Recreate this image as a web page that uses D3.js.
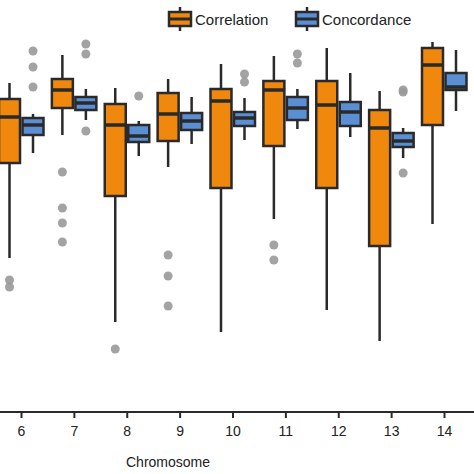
<!DOCTYPE html><html><head><meta charset="utf-8"><script src="https://cdn.jsdelivr.net/npm/d3@7"></script>
<style>body{margin:0;background:#fff}text{font-family:"Liberation Sans",Arial,sans-serif}</style></head><body>
<svg id="c" width="474" height="474"></svg>
<script>
const chromosomes=[6,7,8,9,10,11,12,13,14];
// [lowWhisker,q1,median,q3,highWhisker]
const corr=[[154,249,295,313,329],[277,304,322,333,357],[90,216,287,308,324],[245,271,298,319,333],[80,224,311,323,348],[193,266,322,331,356],[102,224,307,331,364],[71,166,284,302,321],[188,287,347,364,370]];
const corrOut=[[132,125],[240,204,189,170],[63],[157,136,106],[],[167,152],[],[],[]];
const conc=[[259,277,287,294,298],[292,302,309,315,323],[256,270,276,287,291],[268,282,291,299,315],[272,286,294,300,314],[283,292,304,315,323],[275,286,300,310,339],[254,265,271,279,284],[301,322,325,339,362]];
const concOut=[[361,345,325],[368,358,281],[316],[],[338,330],[358,349],[],[322,320,239],[]];
const svg=d3.select("#c");
const x=d3.scaleLinear().domain([6,14]).range([21,444]);
const y=d3.scaleLinear().domain([0,412]).range([412,0]);
const stroke="#2a2a2a";
function drawBox(stats,outs,off,fill){
  stats.forEach((s,i)=>{
    const cx=x(chromosomes[i])+off, w=21;
    const g=svg.append("g");
    (outs[i]).forEach(o=>g.append("circle").attr("cx",cx).attr("cy",y(o)).attr("r",4.5).attr("fill","#999").attr("opacity",0.9));
    g.append("line").attr("x1",cx).attr("x2",cx).attr("y1",y(s[0])).attr("y2",y(s[4])).attr("stroke",stroke).attr("stroke-width",2.5);
    g.append("rect").attr("x",cx-w/2).attr("y",y(s[3])).attr("width",w).attr("height",y(s[1])-y(s[3])).attr("fill",fill).attr("stroke",stroke).attr("stroke-width",2.5);
    g.append("line").attr("x1",cx-w/2).attr("x2",cx+w/2).attr("y1",y(s[2])).attr("y2",y(s[2])).attr("stroke",stroke).attr("stroke-width",3.5);
  });
}
drawBox(corr,corrOut,-11.5,"#F0880E");
drawBox(conc,concOut,12,"#5B8FD4");
const ax=svg.append("g").attr("transform","translate(0,412)").call(d3.axisBottom(x).tickValues(chromosomes).tickSize(6).tickPadding(8));
ax.select(".domain").remove();
ax.append("line").attr("x1",0).attr("x2",474).attr("stroke",stroke).attr("stroke-width",2);
ax.selectAll(".tick line").attr("stroke",stroke).attr("stroke-width",2);
ax.selectAll(".tick text").attr("font-size",14).attr("fill","#222").attr("font-family","Liberation Sans, Arial");
svg.append("text").attr("x",168).attr("y",467).attr("text-anchor","middle").attr("font-size",14).attr("fill","#222").text("Chromosome");
function legend(lx,fill,label){
  const g=svg.append("g");
  g.append("line").attr("x1",lx+12).attr("x2",lx+12).attr("y1",7).attr("y2",31).attr("stroke",stroke).attr("stroke-width",2.5);
  g.append("rect").attr("x",lx+1).attr("y",12).attr("width",22).attr("height",14).attr("fill",fill).attr("stroke",stroke).attr("stroke-width",2.5);
  g.append("line").attr("x1",lx+1).attr("x2",lx+23).attr("y1",19).attr("y2",19).attr("stroke",stroke).attr("stroke-width",3);
  g.append("text").attr("x",lx+27).attr("y",25).attr("font-size",15).attr("fill","#222").text(label);
}
legend(168,"#F0880E","Correlation");
legend(295,"#5B8FD4","Concordance");
</script></body></html>
